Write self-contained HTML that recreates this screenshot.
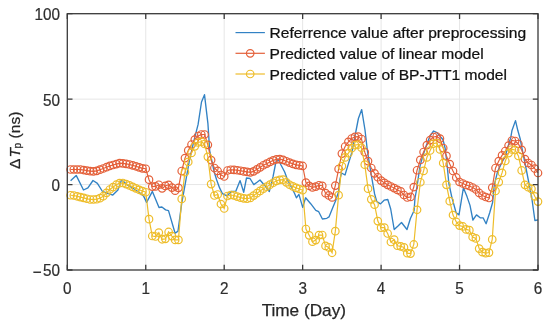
<!DOCTYPE html>
<html><head><meta charset="utf-8"><style>html,body{margin:0;padding:0;background:#fff;overflow:hidden}svg{display:block;filter:blur(0.3px)}</style></head><body>
<svg width="550" height="328" viewBox="0 0 550 328">
<rect width="550" height="328" fill="#fff"/>
<path d="M145.75 13.70V270.00M224.20 13.70V270.00M302.65 13.70V270.00M381.10 13.70V270.00M459.55 13.70V270.00M67.30 99.13H538.00M67.30 184.57H538.00" stroke="#e6e6e6" stroke-width="1" fill="none"/>
<polyline points="70.60,180.80 76.20,175.40 83.50,190.00 87.90,187.80 93.00,180.50 97.40,183.40 102.50,191.50 108.40,193.70 112.80,195.10 117.90,190.00 121.60,179.80 127.40,184.90 133.30,188.50 139.10,192.20 143.50,195.90 146.60,202.40 152.40,191.40 159.00,207.50 161.90,207.00 165.60,209.90 168.50,210.60 175.10,233.30 178.00,231.10 181.70,203.30 184.60,187.40 189.10,162.20 193.70,141.70 198.10,124.40 201.50,102.00 204.50,94.70 207.90,123.30 209.70,150.80 214.20,172.00 216.70,180.00 219.60,187.90 222.50,193.70 226.90,195.90 231.30,191.50 235.70,191.50 240.10,180.60 243.70,192.30 246.50,178.00 250.00,178.50 253.80,184.60 257.40,182.00 260.00,180.00 264.90,185.70 269.30,191.50 273.00,176.90 275.90,162.00 278.10,159.00 281.00,165.00 284.70,172.00 287.30,179.20 294.60,193.50 296.40,197.80 298.90,194.40 302.70,207.40 305.60,197.80 310.70,203.70 315.80,210.30 318.70,211.70 322.40,219.00 326.80,218.30 329.00,216.90 332.60,208.10 335.60,200.80 338.50,192.00 340.00,179.20 341.50,173.00 345.00,175.00 348.20,164.40 351.90,152.20 355.30,134.50 358.40,118.50 361.70,109.60 365.00,130.00 367.30,150.00 371.00,173.40 374.60,193.90 376.80,201.70 380.50,203.90 384.10,200.20 387.80,199.50 390.70,209.00 394.20,229.50 398.00,226.00 401.50,222.50 407.00,229.50 410.40,218.50 414.10,210.50 415.00,198.00 416.50,190.00 420.00,166.10 422.90,155.80 426.50,145.00 430.00,136.00 433.60,131.00 437.00,132.60 443.00,139.70 445.20,148.50 447.30,167.00 448.80,183.00 451.70,196.60 456.10,212.70 459.00,214.90 463.40,187.80 467.00,196.60 470.00,205.40 472.90,220.00 476.50,214.90 480.20,217.80 483.10,217.80 486.10,223.70 489.70,212.70 492.60,202.50 494.30,185.00 497.50,171.90 501.90,162.10 505.20,156.60 508.50,145.00 510.80,137.40 511.90,130.80 515.50,120.60 517.90,130.80 520.10,138.50 523.30,155.20 525.00,163.00 528.30,180.00 531.60,196.50 534.90,220.50 538.00,219.80" fill="none" stroke="#3282C4" stroke-width="1.35" stroke-linejoin="round"/>
<polyline points="70.57,169.50 73.84,169.50 77.11,169.50 80.38,169.50 83.64,170.03 86.91,170.60 90.18,171.17 93.45,171.36 96.72,170.86 99.99,169.69 103.26,168.50 106.53,167.22 109.79,165.94 113.06,165.00 116.33,164.07 119.60,163.14 122.87,163.38 126.14,163.83 129.41,164.52 132.68,165.37 135.94,166.29 139.21,167.33 142.48,168.37 145.75,168.73 149.02,179.66 152.29,186.58 155.56,186.41 158.82,184.74 162.09,188.36 165.36,185.92 168.63,184.80 171.90,187.55 175.17,190.64 178.44,187.81 181.71,170.98 184.97,158.10 188.24,150.42 191.51,144.48 194.78,139.53 198.05,135.98 201.32,134.50 204.59,134.50 207.86,144.86 211.12,160.06 214.39,167.98 217.66,170.97 220.93,175.01 224.20,176.50 227.47,170.48 230.74,169.73 234.01,169.90 237.27,170.25 240.54,170.77 243.81,171.40 247.08,171.94 250.35,172.33 253.62,171.37 256.89,169.34 260.16,167.30 263.43,165.25 266.69,163.60 269.96,161.97 273.23,160.37 276.50,159.31 279.77,159.08 283.04,159.87 286.31,161.27 289.57,162.60 292.84,163.90 296.11,164.86 299.38,165.42 302.65,165.97 305.92,182.57 309.19,185.79 312.46,187.43 315.72,186.60 318.99,185.26 322.26,185.78 325.53,193.16 328.80,195.43 332.07,197.42 335.34,185.62 338.61,169.00 341.88,153.59 345.14,146.50 348.41,141.79 351.68,138.52 354.95,136.82 358.22,136.61 361.49,138.99 364.76,152.15 368.03,161.05 371.29,167.99 374.56,173.34 377.83,177.24 381.10,180.60 384.37,182.87 387.64,184.85 390.91,186.49 394.18,188.08 397.44,189.93 400.71,191.41 403.98,194.98 407.25,197.49 410.52,196.94 413.79,187.04 417.06,170.23 420.33,159.94 423.59,152.02 426.86,145.08 430.13,140.10 433.40,137.00 436.67,136.50 439.94,138.61 443.21,148.02 446.47,155.94 449.74,164.09 453.01,171.02 456.28,177.46 459.55,182.02 462.82,183.51 466.09,184.99 469.36,185.99 472.63,187.52 475.89,189.50 479.16,192.96 482.43,195.51 485.70,197.00 488.97,197.99 492.24,187.57 495.51,167.99 498.77,161.05 502.04,155.44 505.31,150.98 508.58,145.53 511.85,140.51 515.12,141.02 518.39,143.99 521.66,149.92 524.92,159.03 528.19,162.99 531.46,164.98 534.73,168.54 538.00,173.00" fill="none" stroke="#E4603A" stroke-width="1.2"/><g fill="none" stroke="#E4603A" stroke-width="1.2"><circle cx="70.57" cy="169.50" r="3.75"/><circle cx="73.84" cy="169.50" r="3.75"/><circle cx="77.11" cy="169.50" r="3.75"/><circle cx="80.38" cy="169.50" r="3.75"/><circle cx="83.64" cy="170.03" r="3.75"/><circle cx="86.91" cy="170.60" r="3.75"/><circle cx="90.18" cy="171.17" r="3.75"/><circle cx="93.45" cy="171.36" r="3.75"/><circle cx="96.72" cy="170.86" r="3.75"/><circle cx="99.99" cy="169.69" r="3.75"/><circle cx="103.26" cy="168.50" r="3.75"/><circle cx="106.53" cy="167.22" r="3.75"/><circle cx="109.79" cy="165.94" r="3.75"/><circle cx="113.06" cy="165.00" r="3.75"/><circle cx="116.33" cy="164.07" r="3.75"/><circle cx="119.60" cy="163.14" r="3.75"/><circle cx="122.87" cy="163.38" r="3.75"/><circle cx="126.14" cy="163.83" r="3.75"/><circle cx="129.41" cy="164.52" r="3.75"/><circle cx="132.68" cy="165.37" r="3.75"/><circle cx="135.94" cy="166.29" r="3.75"/><circle cx="139.21" cy="167.33" r="3.75"/><circle cx="142.48" cy="168.37" r="3.75"/><circle cx="145.75" cy="168.73" r="3.75"/><circle cx="149.02" cy="179.66" r="3.75"/><circle cx="152.29" cy="186.58" r="3.75"/><circle cx="155.56" cy="186.41" r="3.75"/><circle cx="158.82" cy="184.74" r="3.75"/><circle cx="162.09" cy="188.36" r="3.75"/><circle cx="165.36" cy="185.92" r="3.75"/><circle cx="168.63" cy="184.80" r="3.75"/><circle cx="171.90" cy="187.55" r="3.75"/><circle cx="175.17" cy="190.64" r="3.75"/><circle cx="178.44" cy="187.81" r="3.75"/><circle cx="181.71" cy="170.98" r="3.75"/><circle cx="184.97" cy="158.10" r="3.75"/><circle cx="188.24" cy="150.42" r="3.75"/><circle cx="191.51" cy="144.48" r="3.75"/><circle cx="194.78" cy="139.53" r="3.75"/><circle cx="198.05" cy="135.98" r="3.75"/><circle cx="201.32" cy="134.50" r="3.75"/><circle cx="204.59" cy="134.50" r="3.75"/><circle cx="207.86" cy="144.86" r="3.75"/><circle cx="211.12" cy="160.06" r="3.75"/><circle cx="214.39" cy="167.98" r="3.75"/><circle cx="217.66" cy="170.97" r="3.75"/><circle cx="220.93" cy="175.01" r="3.75"/><circle cx="224.20" cy="176.50" r="3.75"/><circle cx="227.47" cy="170.48" r="3.75"/><circle cx="230.74" cy="169.73" r="3.75"/><circle cx="234.01" cy="169.90" r="3.75"/><circle cx="237.27" cy="170.25" r="3.75"/><circle cx="240.54" cy="170.77" r="3.75"/><circle cx="243.81" cy="171.40" r="3.75"/><circle cx="247.08" cy="171.94" r="3.75"/><circle cx="250.35" cy="172.33" r="3.75"/><circle cx="253.62" cy="171.37" r="3.75"/><circle cx="256.89" cy="169.34" r="3.75"/><circle cx="260.16" cy="167.30" r="3.75"/><circle cx="263.43" cy="165.25" r="3.75"/><circle cx="266.69" cy="163.60" r="3.75"/><circle cx="269.96" cy="161.97" r="3.75"/><circle cx="273.23" cy="160.37" r="3.75"/><circle cx="276.50" cy="159.31" r="3.75"/><circle cx="279.77" cy="159.08" r="3.75"/><circle cx="283.04" cy="159.87" r="3.75"/><circle cx="286.31" cy="161.27" r="3.75"/><circle cx="289.57" cy="162.60" r="3.75"/><circle cx="292.84" cy="163.90" r="3.75"/><circle cx="296.11" cy="164.86" r="3.75"/><circle cx="299.38" cy="165.42" r="3.75"/><circle cx="302.65" cy="165.97" r="3.75"/><circle cx="305.92" cy="182.57" r="3.75"/><circle cx="309.19" cy="185.79" r="3.75"/><circle cx="312.46" cy="187.43" r="3.75"/><circle cx="315.72" cy="186.60" r="3.75"/><circle cx="318.99" cy="185.26" r="3.75"/><circle cx="322.26" cy="185.78" r="3.75"/><circle cx="325.53" cy="193.16" r="3.75"/><circle cx="328.80" cy="195.43" r="3.75"/><circle cx="332.07" cy="197.42" r="3.75"/><circle cx="335.34" cy="185.62" r="3.75"/><circle cx="338.61" cy="169.00" r="3.75"/><circle cx="341.88" cy="153.59" r="3.75"/><circle cx="345.14" cy="146.50" r="3.75"/><circle cx="348.41" cy="141.79" r="3.75"/><circle cx="351.68" cy="138.52" r="3.75"/><circle cx="354.95" cy="136.82" r="3.75"/><circle cx="358.22" cy="136.61" r="3.75"/><circle cx="361.49" cy="138.99" r="3.75"/><circle cx="364.76" cy="152.15" r="3.75"/><circle cx="368.03" cy="161.05" r="3.75"/><circle cx="371.29" cy="167.99" r="3.75"/><circle cx="374.56" cy="173.34" r="3.75"/><circle cx="377.83" cy="177.24" r="3.75"/><circle cx="381.10" cy="180.60" r="3.75"/><circle cx="384.37" cy="182.87" r="3.75"/><circle cx="387.64" cy="184.85" r="3.75"/><circle cx="390.91" cy="186.49" r="3.75"/><circle cx="394.18" cy="188.08" r="3.75"/><circle cx="397.44" cy="189.93" r="3.75"/><circle cx="400.71" cy="191.41" r="3.75"/><circle cx="403.98" cy="194.98" r="3.75"/><circle cx="407.25" cy="197.49" r="3.75"/><circle cx="410.52" cy="196.94" r="3.75"/><circle cx="413.79" cy="187.04" r="3.75"/><circle cx="417.06" cy="170.23" r="3.75"/><circle cx="420.33" cy="159.94" r="3.75"/><circle cx="423.59" cy="152.02" r="3.75"/><circle cx="426.86" cy="145.08" r="3.75"/><circle cx="430.13" cy="140.10" r="3.75"/><circle cx="433.40" cy="137.00" r="3.75"/><circle cx="436.67" cy="136.50" r="3.75"/><circle cx="439.94" cy="138.61" r="3.75"/><circle cx="443.21" cy="148.02" r="3.75"/><circle cx="446.47" cy="155.94" r="3.75"/><circle cx="449.74" cy="164.09" r="3.75"/><circle cx="453.01" cy="171.02" r="3.75"/><circle cx="456.28" cy="177.46" r="3.75"/><circle cx="459.55" cy="182.02" r="3.75"/><circle cx="462.82" cy="183.51" r="3.75"/><circle cx="466.09" cy="184.99" r="3.75"/><circle cx="469.36" cy="185.99" r="3.75"/><circle cx="472.63" cy="187.52" r="3.75"/><circle cx="475.89" cy="189.50" r="3.75"/><circle cx="479.16" cy="192.96" r="3.75"/><circle cx="482.43" cy="195.51" r="3.75"/><circle cx="485.70" cy="197.00" r="3.75"/><circle cx="488.97" cy="197.99" r="3.75"/><circle cx="492.24" cy="187.57" r="3.75"/><circle cx="495.51" cy="167.99" r="3.75"/><circle cx="498.77" cy="161.05" r="3.75"/><circle cx="502.04" cy="155.44" r="3.75"/><circle cx="505.31" cy="150.98" r="3.75"/><circle cx="508.58" cy="145.53" r="3.75"/><circle cx="511.85" cy="140.51" r="3.75"/><circle cx="515.12" cy="141.02" r="3.75"/><circle cx="518.39" cy="143.99" r="3.75"/><circle cx="521.66" cy="149.92" r="3.75"/><circle cx="524.92" cy="159.03" r="3.75"/><circle cx="528.19" cy="162.99" r="3.75"/><circle cx="531.46" cy="164.98" r="3.75"/><circle cx="534.73" cy="168.54" r="3.75"/><circle cx="538.00" cy="173.00" r="3.75"/></g>
<polyline points="70.57,195.25 73.84,195.49 77.11,196.28 80.38,197.09 83.64,197.91 86.91,198.73 90.18,199.50 93.45,199.50 96.72,199.26 99.99,198.17 103.26,196.21 106.53,192.86 109.79,189.51 113.06,187.08 116.33,184.71 119.60,183.18 122.87,182.99 126.14,184.08 129.41,185.41 132.68,186.88 135.94,188.35 139.21,189.78 142.48,191.05 145.75,192.23 149.02,219.14 152.29,236.02 155.56,236.51 158.82,232.55 162.09,239.29 165.36,238.86 168.63,231.97 171.90,236.09 175.17,239.90 178.44,239.90 181.71,198.95 184.97,172.20 188.24,161.88 191.51,152.97 194.78,146.34 198.05,142.49 201.32,141.71 204.59,143.99 207.86,156.83 211.12,184.09 214.39,195.48 217.66,194.51 220.93,204.04 224.20,208.50 227.47,195.98 230.74,195.01 234.01,195.47 237.27,196.55 240.54,197.67 243.81,198.31 247.08,198.75 250.35,197.95 253.62,195.57 256.89,193.22 260.16,190.94 263.43,188.65 266.69,186.67 269.96,184.70 273.23,182.77 276.50,180.84 279.77,179.79 283.04,179.57 286.31,182.37 289.57,184.75 292.84,186.41 296.11,187.83 299.38,188.99 302.65,190.15 305.92,228.99 309.19,235.31 312.46,241.72 315.72,240.05 318.99,235.16 322.26,235.00 325.53,245.91 328.80,247.47 332.07,252.78 335.34,231.13 338.61,195.17 341.88,166.09 345.14,157.38 348.41,153.13 351.68,148.18 354.95,145.14 358.22,144.53 361.49,147.77 364.76,164.67 368.03,188.69 371.29,199.37 374.56,204.64 377.83,221.10 381.10,227.64 384.37,227.54 387.64,233.48 390.91,241.99 394.18,239.70 397.44,245.77 400.71,246.30 403.98,247.42 407.25,253.14 410.52,253.60 413.79,244.46 417.06,209.78 420.33,182.25 423.59,170.93 426.86,157.43 430.13,150.50 433.40,143.64 436.67,143.00 439.94,149.43 443.21,163.04 446.47,184.83 449.74,201.19 453.01,215.03 456.28,221.96 459.55,225.61 462.82,226.46 466.09,229.40 469.36,230.15 472.63,237.03 475.89,238.44 479.16,248.55 482.43,252.19 485.70,253.22 488.97,252.58 492.24,239.44 495.51,190.98 498.77,182.07 502.04,172.90 505.31,160.97 508.58,153.05 511.85,149.51 515.12,150.03 518.39,155.98 521.66,170.47 524.92,184.80 528.19,187.27 531.46,188.84 534.73,196.33 538.00,201.55" fill="none" stroke="#EEBD2A" stroke-width="1.2"/><g fill="none" stroke="#EEBD2A" stroke-width="1.2"><circle cx="70.57" cy="195.25" r="3.75"/><circle cx="73.84" cy="195.49" r="3.75"/><circle cx="77.11" cy="196.28" r="3.75"/><circle cx="80.38" cy="197.09" r="3.75"/><circle cx="83.64" cy="197.91" r="3.75"/><circle cx="86.91" cy="198.73" r="3.75"/><circle cx="90.18" cy="199.50" r="3.75"/><circle cx="93.45" cy="199.50" r="3.75"/><circle cx="96.72" cy="199.26" r="3.75"/><circle cx="99.99" cy="198.17" r="3.75"/><circle cx="103.26" cy="196.21" r="3.75"/><circle cx="106.53" cy="192.86" r="3.75"/><circle cx="109.79" cy="189.51" r="3.75"/><circle cx="113.06" cy="187.08" r="3.75"/><circle cx="116.33" cy="184.71" r="3.75"/><circle cx="119.60" cy="183.18" r="3.75"/><circle cx="122.87" cy="182.99" r="3.75"/><circle cx="126.14" cy="184.08" r="3.75"/><circle cx="129.41" cy="185.41" r="3.75"/><circle cx="132.68" cy="186.88" r="3.75"/><circle cx="135.94" cy="188.35" r="3.75"/><circle cx="139.21" cy="189.78" r="3.75"/><circle cx="142.48" cy="191.05" r="3.75"/><circle cx="145.75" cy="192.23" r="3.75"/><circle cx="149.02" cy="219.14" r="3.75"/><circle cx="152.29" cy="236.02" r="3.75"/><circle cx="155.56" cy="236.51" r="3.75"/><circle cx="158.82" cy="232.55" r="3.75"/><circle cx="162.09" cy="239.29" r="3.75"/><circle cx="165.36" cy="238.86" r="3.75"/><circle cx="168.63" cy="231.97" r="3.75"/><circle cx="171.90" cy="236.09" r="3.75"/><circle cx="175.17" cy="239.90" r="3.75"/><circle cx="178.44" cy="239.90" r="3.75"/><circle cx="181.71" cy="198.95" r="3.75"/><circle cx="184.97" cy="172.20" r="3.75"/><circle cx="188.24" cy="161.88" r="3.75"/><circle cx="191.51" cy="152.97" r="3.75"/><circle cx="194.78" cy="146.34" r="3.75"/><circle cx="198.05" cy="142.49" r="3.75"/><circle cx="201.32" cy="141.71" r="3.75"/><circle cx="204.59" cy="143.99" r="3.75"/><circle cx="207.86" cy="156.83" r="3.75"/><circle cx="211.12" cy="184.09" r="3.75"/><circle cx="214.39" cy="195.48" r="3.75"/><circle cx="217.66" cy="194.51" r="3.75"/><circle cx="220.93" cy="204.04" r="3.75"/><circle cx="224.20" cy="208.50" r="3.75"/><circle cx="227.47" cy="195.98" r="3.75"/><circle cx="230.74" cy="195.01" r="3.75"/><circle cx="234.01" cy="195.47" r="3.75"/><circle cx="237.27" cy="196.55" r="3.75"/><circle cx="240.54" cy="197.67" r="3.75"/><circle cx="243.81" cy="198.31" r="3.75"/><circle cx="247.08" cy="198.75" r="3.75"/><circle cx="250.35" cy="197.95" r="3.75"/><circle cx="253.62" cy="195.57" r="3.75"/><circle cx="256.89" cy="193.22" r="3.75"/><circle cx="260.16" cy="190.94" r="3.75"/><circle cx="263.43" cy="188.65" r="3.75"/><circle cx="266.69" cy="186.67" r="3.75"/><circle cx="269.96" cy="184.70" r="3.75"/><circle cx="273.23" cy="182.77" r="3.75"/><circle cx="276.50" cy="180.84" r="3.75"/><circle cx="279.77" cy="179.79" r="3.75"/><circle cx="283.04" cy="179.57" r="3.75"/><circle cx="286.31" cy="182.37" r="3.75"/><circle cx="289.57" cy="184.75" r="3.75"/><circle cx="292.84" cy="186.41" r="3.75"/><circle cx="296.11" cy="187.83" r="3.75"/><circle cx="299.38" cy="188.99" r="3.75"/><circle cx="302.65" cy="190.15" r="3.75"/><circle cx="305.92" cy="228.99" r="3.75"/><circle cx="309.19" cy="235.31" r="3.75"/><circle cx="312.46" cy="241.72" r="3.75"/><circle cx="315.72" cy="240.05" r="3.75"/><circle cx="318.99" cy="235.16" r="3.75"/><circle cx="322.26" cy="235.00" r="3.75"/><circle cx="325.53" cy="245.91" r="3.75"/><circle cx="328.80" cy="247.47" r="3.75"/><circle cx="332.07" cy="252.78" r="3.75"/><circle cx="335.34" cy="231.13" r="3.75"/><circle cx="338.61" cy="195.17" r="3.75"/><circle cx="341.88" cy="166.09" r="3.75"/><circle cx="345.14" cy="157.38" r="3.75"/><circle cx="348.41" cy="153.13" r="3.75"/><circle cx="351.68" cy="148.18" r="3.75"/><circle cx="354.95" cy="145.14" r="3.75"/><circle cx="358.22" cy="144.53" r="3.75"/><circle cx="361.49" cy="147.77" r="3.75"/><circle cx="364.76" cy="164.67" r="3.75"/><circle cx="368.03" cy="188.69" r="3.75"/><circle cx="371.29" cy="199.37" r="3.75"/><circle cx="374.56" cy="204.64" r="3.75"/><circle cx="377.83" cy="221.10" r="3.75"/><circle cx="381.10" cy="227.64" r="3.75"/><circle cx="384.37" cy="227.54" r="3.75"/><circle cx="387.64" cy="233.48" r="3.75"/><circle cx="390.91" cy="241.99" r="3.75"/><circle cx="394.18" cy="239.70" r="3.75"/><circle cx="397.44" cy="245.77" r="3.75"/><circle cx="400.71" cy="246.30" r="3.75"/><circle cx="403.98" cy="247.42" r="3.75"/><circle cx="407.25" cy="253.14" r="3.75"/><circle cx="410.52" cy="253.60" r="3.75"/><circle cx="413.79" cy="244.46" r="3.75"/><circle cx="417.06" cy="209.78" r="3.75"/><circle cx="420.33" cy="182.25" r="3.75"/><circle cx="423.59" cy="170.93" r="3.75"/><circle cx="426.86" cy="157.43" r="3.75"/><circle cx="430.13" cy="150.50" r="3.75"/><circle cx="433.40" cy="143.64" r="3.75"/><circle cx="436.67" cy="143.00" r="3.75"/><circle cx="439.94" cy="149.43" r="3.75"/><circle cx="443.21" cy="163.04" r="3.75"/><circle cx="446.47" cy="184.83" r="3.75"/><circle cx="449.74" cy="201.19" r="3.75"/><circle cx="453.01" cy="215.03" r="3.75"/><circle cx="456.28" cy="221.96" r="3.75"/><circle cx="459.55" cy="225.61" r="3.75"/><circle cx="462.82" cy="226.46" r="3.75"/><circle cx="466.09" cy="229.40" r="3.75"/><circle cx="469.36" cy="230.15" r="3.75"/><circle cx="472.63" cy="237.03" r="3.75"/><circle cx="475.89" cy="238.44" r="3.75"/><circle cx="479.16" cy="248.55" r="3.75"/><circle cx="482.43" cy="252.19" r="3.75"/><circle cx="485.70" cy="253.22" r="3.75"/><circle cx="488.97" cy="252.58" r="3.75"/><circle cx="492.24" cy="239.44" r="3.75"/><circle cx="495.51" cy="190.98" r="3.75"/><circle cx="498.77" cy="182.07" r="3.75"/><circle cx="502.04" cy="172.90" r="3.75"/><circle cx="505.31" cy="160.97" r="3.75"/><circle cx="508.58" cy="153.05" r="3.75"/><circle cx="511.85" cy="149.51" r="3.75"/><circle cx="515.12" cy="150.03" r="3.75"/><circle cx="518.39" cy="155.98" r="3.75"/><circle cx="521.66" cy="170.47" r="3.75"/><circle cx="524.92" cy="184.80" r="3.75"/><circle cx="528.19" cy="187.27" r="3.75"/><circle cx="531.46" cy="188.84" r="3.75"/><circle cx="534.73" cy="196.33" r="3.75"/><circle cx="538.00" cy="201.55" r="3.75"/></g>
<rect x="67.3" y="13.7" width="470.70" height="256.30" fill="none" stroke="#3a3a3a" stroke-width="1.3"/>
<path d="M67.30 270.00v-5.2M67.30 13.70v5.2M145.75 270.00v-5.2M145.75 13.70v5.2M224.20 270.00v-5.2M224.20 13.70v5.2M302.65 270.00v-5.2M302.65 13.70v5.2M381.10 270.00v-5.2M381.10 13.70v5.2M459.55 270.00v-5.2M459.55 13.70v5.2M538.00 270.00v-5.2M538.00 13.70v5.2M67.30 13.70h5.2M538.00 13.70h-5.2M67.30 99.13h5.2M538.00 99.13h-5.2M67.30 184.57h5.2M538.00 184.57h-5.2M67.30 270.00h5.2M538.00 270.00h-5.2" stroke="#3a3a3a" stroke-width="1.3" fill="none"/>
<g font-family="Liberation Sans, Arial, sans-serif" font-size="15.3" fill="#2e2e2e" stroke="#2e2e2e" stroke-width="0.2">
<text transform="translate(67.30 293.6) scale(1 1.12)" text-anchor="middle">0</text>
<text transform="translate(145.75 293.6) scale(1 1.12)" text-anchor="middle">1</text>
<text transform="translate(224.20 293.6) scale(1 1.12)" text-anchor="middle">2</text>
<text transform="translate(302.65 293.6) scale(1 1.12)" text-anchor="middle">3</text>
<text transform="translate(381.10 293.6) scale(1 1.12)" text-anchor="middle">4</text>
<text transform="translate(459.55 293.6) scale(1 1.12)" text-anchor="middle">5</text>
<text transform="translate(538.00 293.6) scale(1 1.12)" text-anchor="middle">6</text>
<text transform="translate(60.0 20.10) scale(1 1.12)" text-anchor="end">100</text>
<text transform="translate(60.0 105.53) scale(1 1.12)" text-anchor="end">50</text>
<text transform="translate(60.0 190.97) scale(1 1.12)" text-anchor="end">0</text>
<text transform="translate(60.0 276.40) scale(1 1.12)" text-anchor="end"><tspan dy="1.5">−</tspan><tspan dy="-1.5" dx="1.4">50</tspan></text>
</g>
<text x="303.8" y="315.7" text-anchor="middle" font-family="Liberation Sans, Arial, sans-serif" font-size="17.2" fill="#262626" stroke="#262626" stroke-width="0.25">Time (Day)</text>
<text transform="translate(19.9 169) rotate(-90)" font-family="Liberation Sans, Arial, sans-serif" font-size="15.5" fill="#262626" stroke="#262626" stroke-width="0.25"><tspan x="0">Δ</tspan><tspan x="11.6" font-style="italic">T</tspan><tspan x="20.4" dy="0.7" font-size="10">p</tspan><tspan x="30.6" dy="-0.7">(ns)</tspan></text>
<g font-family="Liberation Sans, Arial, sans-serif" font-size="15.6" fill="#111"><path d="M235.5 32.60H264.9" stroke="#3282C4" stroke-width="1.2"/><text transform="translate(269.6 38.10) scale(1 0.95)" stroke="#111" stroke-width="0.25">Referrence value after preprocessing</text><path d="M235.5 53.30H264.9" stroke="#E4603A" stroke-width="1.2"/><circle cx="250.2" cy="53.30" r="3.75" fill="none" stroke="#E4603A" stroke-width="1.2"/><text transform="translate(269.6 58.80) scale(1 0.95)" stroke="#111" stroke-width="0.25">Predicted value of linear model</text><path d="M235.5 74.00H264.9" stroke="#EEBD2A" stroke-width="1.2"/><circle cx="250.2" cy="74.00" r="3.75" fill="none" stroke="#EEBD2A" stroke-width="1.2"/><text transform="translate(269.6 79.50) scale(1 0.95)" stroke="#111" stroke-width="0.25">Predicted value of BP-JTT1 model</text></g>
</svg>
</body></html>
